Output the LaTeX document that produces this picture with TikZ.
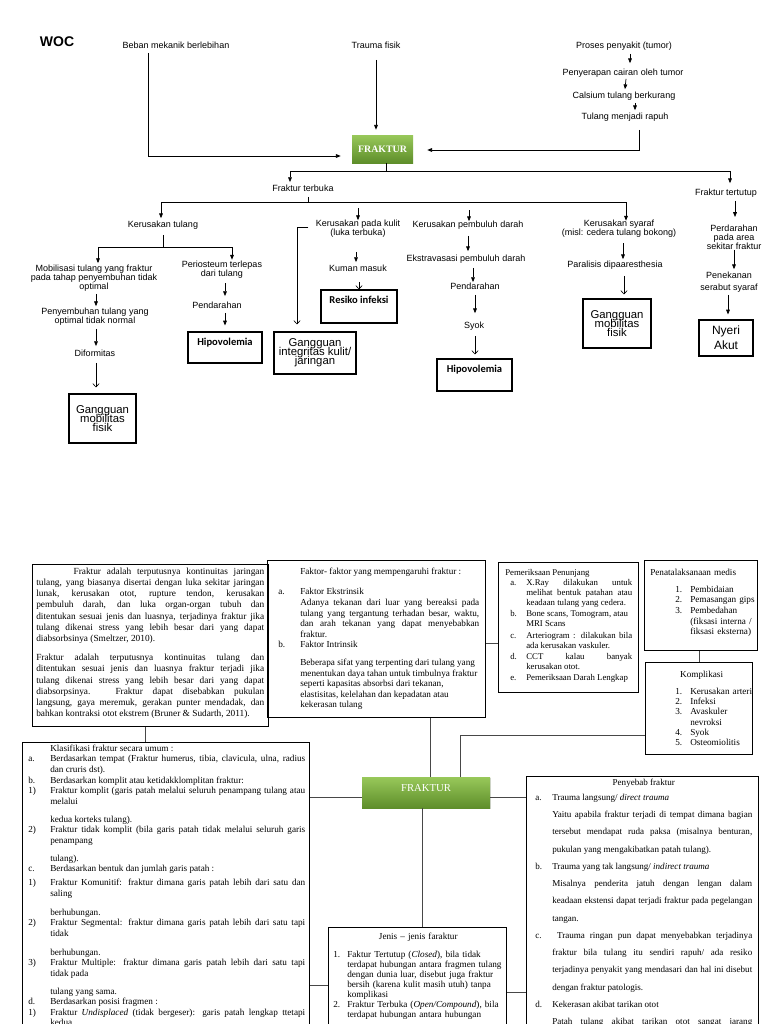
\documentclass[tikz,border=0pt]{standalone}
\usepackage{fontspec}
\setmainfont{Liberation Serif}
\setsansfont{Liberation Sans}
\newfontfamily\boxfont{Carlito}
\usetikzlibrary{arrows.meta}
\usetikzlibrary{calc}
\usetikzlibrary{shadows}
\definecolor{leafhi}{RGB}{152,200,90}
\definecolor{leaflo}{RGB}{94,142,42}
\newcommand{\entrylbl}[2][16.5pt]{\noindent\llap{\makebox[#1][l]{#2}}}
\newcommand{\boxtitle}[1]{\hbox to\hsize{\hss#1\hss}\par}

\begin{document}
\begin{tikzpicture}[x=0.75pt, y=-0.75pt,
	flow/.style={font=\sffamily\fontsize{6.75}{6.8}\selectfont, align=center, inner sep=1pt},
	dx/.style={draw, line width=0.8pt, align=center, inner sep=0pt, font=\sffamily\fontsize{8.5}{9}\selectfont},
	dxlbl/.style={anchor=north, inner sep=4.5pt, font=\boxfont\bfseries\fontsize{7.9}{8}\selectfont},
	frakbox/.style={top color=leafhi, bottom color=leaflo, text=white, inner sep=0pt},
	arr/.style={-{Triangle[length=3.6pt,width=2.8pt]}, line width=0.55pt},
	oarr/.style={-{Straight Barb[length=2.6pt,width=4.8pt]}, line width=0.45pt},
	panel/.style={draw, line width=0.8pt, anchor=north west, inner sep=0pt},
	body/.style={anchor=north west, inner sep=0pt, align=justify, font=\fontsize{6.9}{7.9}\selectfont},
	link/.style={draw=black!72, line width=0.7pt}]
	\useasboundingbox (0,0) rectangle (768,1024);
	\clip (0,0) rectangle (768,1024);
	\fill[white] (0,0) rectangle (768,1024);
	
	% causes of the fracture
	\node[font=\sffamily\bfseries\fontsize{10.5}{12}\selectfont, inner sep=0pt] (woc) at (57,42) {WOC};
	\node[flow] (beban) at (176,45) {Beban mekanik berlebihan};
	\node[flow] (trauma) at (376,45) {Trauma fisik};
	\node[flow] (proses) at (624,46) {Proses penyakit (tumor)};
	\node[flow] (serap) at (623,73) {Penyerapan cairan oleh tumor};
	\node[flow] (kalsium) at (624,96) {Calsium tulang berkurang};
	\node[flow] (rapuh) at (625,117) {Tulang menjadi rapuh};
	\node[frakbox, font=\bfseries\fontsize{7.4}{8}\selectfont, minimum width=45.75pt, minimum height=21pt] (fraktur) at (382.5,149) {FRAKTUR};
	
	\draw[arr] ($(beban.south)+(-28,3)$) |- ($(fraktur.west)+(-11,7)$);
	\draw[arr] ($(trauma.south)+(0,10)$) -- ($(fraktur.north)+(-6.5,-5)$);
	\draw[arr] ($(proses.south)+(6,2)$) -- ($(serap.north)+(7,-4)$);
	\draw[arr] ($(serap.south)+(3,0)$) -- ($(kalsium.north)+(1,-1)$);
	\draw[arr] ($(kalsium.south)+(11,1)$) -- ($(rapuh.north)+(10,-1)$);
	\draw[arr] ($(rapuh.south)+(14,7)$) |- ($(fraktur.east)+(14,1)$);
	
	% open and closed fracture
	\node[flow] (terbuka) at (303,188) {Fraktur terbuka};
	\node[flow] (tertutup) at (726,193) {Fraktur tertutup};
	\draw ($(fraktur.south)+(3.5,0)$) -- ++(0,8) coordinate (fbus);
	\draw[arr] (fbus) -| ($(terbuka.north)+(-13,-1)$);
	\draw[arr] (fbus) -| ($(tertutup.north)+(4,-4)$);
	
	\node[flow] (rtulang) at (163,225) {Kerusakan tulang};
	\node[flow] (rkulit) at (358,228.5) {Kerusakan pada kulit\\(luka terbuka)};
	\node[flow] (rdarah) at (468,225) {Kerusakan pembuluh darah};
	\node[flow] (rsyaraf) at (619,229) {Kerusakan syaraf\\(misl: cedera tulang bokong)};
	\draw ($(terbuka.south)+(5,4)$) -- ++(0,5.5) coordinate (tbus);
	\draw[arr] (tbus) -| ($(rtulang.north)+(-2,-1)$);
	\draw[arr] (tbus) -| ($(rsyaraf.north)+(7,2)$);
	\draw[arr] ($(rkulit.north)+(0,-10)$) -- ($(rkulit.north)+(0,2)$);
	\draw[arr] ($(rdarah.north)+(1,-9)$) -- ($(rdarah.north)+(1,2)$);
	
	% bone damage
	\node[flow] (mobil) at (94,278) {Mobilisasi tulang yang fraktur\\pada tahap penyembuhan tidak\\optimal};
	\node[flow] (perio) at (222,270) {Periosteum terlepas\\dari tulang};
	\draw ($(rtulang.south)+(0,4)$) -- ++(0,12.6) coordinate (kbus);
	\draw[arr] (kbus) -| ($(mobil.north)+(4,0)$);
	\draw[arr] (kbus) -| ($(perio.north)+(10,0)$);
	\node[flow] (sembuh) at (95,316.5) {Penyembuhan tulang yang\\optimal tidak normal};
	\node[flow] (difor) at (95,353) {Diformitas};
	\node[dx, minimum width=50.25pt, minimum height=36.75pt] (gmob1) at (102.5,418.5) {Gangguan\\[-2.25pt]mobilitas\\[-2.25pt]fisik};
	\draw[arr] ($(mobil.south)+(2,1)$) -- ($(sembuh.north)+(1,0)$);
	\draw[arr] ($(sembuh.south)+(1,2)$) -- ($(difor.north)+(1,-2)$);
	\draw[oarr] ($(difor.south)+(1,5)$) -- ($(gmob1.north)+(-6.5,-6)$);
	\node[flow] (pendar1) at (217,305) {Pendarahan};
	\node[dx, minimum width=55.5pt, minimum height=23.25pt, label={[dxlbl]north:Hipovolemia}] (hipo1) at (225,347.5) {};
	\draw[arr] ($(perio.south)+(3,3)$) -- ($(pendar1.north)+(8,-4)$);
	\draw[arr] ($(pendar1.south)+(8,3)$) -- ($(hipo1.north)+(0,-6)$);
	
	% skin damage
	\node[flow] (kuman) at (358,268) {Kuman masuk};
	\node[dx, minimum width=57pt, minimum height=24.75pt, label={[dxlbl]north:Resiko infeksi}] (infeksi) at (359,306.5) {};
	\node[dx, minimum width=61.5pt, minimum height=31.5pt] (gint) at (315,353) {Gangguan\\[-2.25pt]integritas kulit/\\[-2.25pt]jaringan};
	\draw[arr] ($(rkulit.south)+(-2,13)$) -- ($(kuman.north)+(-2,-1)$);
	\draw[oarr] ($(kuman.south)+(1,9)$) -- (infeksi.north);
	\draw[oarr] ($(rkulit.west)+(-6,-1.5)$) -| ($(gint.north)+(-18,-7)$);
	
	% vessel damage
	\node[flow] (ekstra) at (466,259) {Ekstravasasi pembuluh darah};
	\node[flow] (pendar2) at (475,286) {Pendarahan};
	\node[flow] (syok) at (474,326) {Syok};
	\node[dx, minimum width=56.25pt, minimum height=24pt, label={[dxlbl]north:Hipovolemia}] (hipo2) at (474.5,375) {};
	\draw[arr] ($(rdarah.south)+(0,5)$) -- ($(ekstra.north)+(2,-2)$);
	\draw[arr] ($(ekstra.south)+(7,3)$) -- ($(pendar2.north)+(-2,1)$);
	\draw[arr] ($(pendar2.south)+(0,4)$) -- ($(syok.north)+(1,-7)$);
	\draw[oarr] ($(syok.south)+(1,4)$) -- ($(hipo2.north)+(0.5,-4)$);
	
	% nerve damage
	\node[flow] (paral) at (615,265) {Paralisis dipaaresthesia};
	\node[dx, minimum width=51pt, minimum height=36.75pt] (gmob2) at (617,323.5) {Gangguan\\[-2.25pt]mobilitas\\[-2.25pt]fisik};
	\draw[arr] ($(rsyaraf.south)+(4,4)$) -- ($(paral.north)+(8,0)$);
	\draw[oarr] ($(paral.south)+(9,5)$) -- ($(gmob2.north)+(7,-4)$);
	
	% closed fracture
	\node[flow] (perdar) at (734,237) {Perdarahan\\pada area\\sekitar fraktur};
	\node[flow, font=\sffamily\fontsize{6.75}{9}\selectfont] (tekan) at (729,282) {Penekanan\\serabut syaraf};
	\node[dx, font=\sffamily\fontsize{9}{11.25}\selectfont, minimum width=40.5pt, minimum height=27pt] (nyeri) at (726,338) {Nyeri\\Akut};
	\draw[arr] ($(tertutup.south)+(9,2)$) -- ($(perdar.north)+(1,-6)$);
	\draw[arr] ($(perdar.south)+(0,-1)$) -- ($(tekan.north)+(5,-1)$);
	\draw[arr] ($(tekan.south)+(-1,1)$) -- ($(nyeri.north)+(2,-5)$);
	
	% concept map boxes
	\node[panel, minimum width=177pt, minimum height=121.5pt] (defbox) at (32,564) {};
	\node[panel, minimum width=163.5pt, minimum height=117.75pt] (faktor) at (267,560) {};
	\node[panel, minimum width=105pt, minimum height=97.5pt] (periksa) at (498,562) {};
	\node[panel, minimum width=84.75pt, minimum height=67.5pt] (tata) at (644,560) {};
	\node[panel, minimum width=80.25pt, minimum height=69pt] (kompli) at (645,662) {};
	\node[panel, minimum width=215.25pt, minimum height=268.5pt] (klasbox) at (22,742) {};
	\node[panel, minimum width=174pt, minimum height=243pt] (sebab) at (526,776) {};
	\node[panel, minimum width=133.5pt, minimum height=129.75pt] (jenis) at (328,927) {};
	\node[frakbox, font=\fontsize{8}{9}\selectfont, text depth=6.5pt, minimum width=96pt, minimum height=23.25pt,
		drop shadow={shadow xshift=1pt, shadow yshift=-1pt, opacity=0.3}] (fraktur2) at (426,792.5) {FRAKTUR};
	
	% links between the boxes
	\coordinate (d1) at ($(defbox.south)+(-5,0)$);
	\draw[link] (d1) -- (d1 |- klasbox.north);
	\coordinate (f1) at ($(fraktur2.north)+(4,0)$);
	\draw[link] (f1) -- (f1 |- faktor.south);
	\coordinate (f2) at ($(faktor.east)+(0,4.5)$);
	\draw[link] (f2) -- (f2 -| periksa.west);
	\draw[link] (kompli.north) -- (kompli.north |- tata.south);
	\coordinate (k1) at ($(kompli.west)+(0,27)$);
	\draw[link] (k1) -| ($(fraktur2.north)+(34,0)$);
	\coordinate (f3) at ($(fraktur2.west)+(0,4.5)$);
	\draw[link] (f3) -- (f3 -| klasbox.east);
	\coordinate (f4) at ($(fraktur2.east)+(0,4.5)$);
	\draw[link] (f4) -- (f4 -| sebab.west);
	\coordinate (f5) at ($(fraktur2.south)+(-4,0)$);
	\draw[link] (f5) -- (f5 |- jenis.north);
	\coordinate (j1) at ($(jenis.north west)+(0,58.5)$);
	\draw[link] (j1) -- (j1 -| klasbox.east);
	\coordinate (j2) at ($(jenis.north east)+(0,65)$);
	\draw[link] (j2) -- (j2 -| sebab.west);
	
	% box texts
	\node[body, text width=171pt, font=\fontsize{7}{8.4}\selectfont] (deftext) at (36,567.5) {\parindent=0pt
		\hspace*{28pt}Fraktur adalah terputusnya kontinuitas jaringan\linebreak
		tulang, yang biasanya disertai dengan luka sekitar jaringan\linebreak
		lunak, kerusakan otot, rupture tendon, kerusakan\linebreak
		pembuluh darah, dan luka organ-organ tubuh dan\linebreak
		ditentukan sesuai jenis dan luasnya, terjadinya fraktur jika\linebreak
		tulang dikenai stress yang lebih besar dari yang dapat\linebreak
		diabsorbsinya (Smeltzer, 2010).\par\vspace{6pt}
		Fraktur adalah terputusnya kontinuitas tulang dan\linebreak
		ditentukan sesuai jenis dan luasnya fraktur terjadi jika\linebreak
		tulang dikenai stress yang lebih besar dari yang dapat\linebreak
		diabsorpsinya. Fraktur dapat disebabkan pukulan\linebreak
		langsung, gaya meremuk, gerakan punter mendadak, dan\linebreak
		bahkan kontraksi otot ekstrem (Bruner \& Sudarth, 2011).\par};
	
	\node[body, text width=150.75pt] (faktortext) at (278,567.7) {\parindent=0pt\leftskip=16.5pt
		Faktor- faktor yang mempengaruhi fraktur :\par\vspace{7.5pt}
		\entrylbl{a.}Faktor Ekstrinsik\par
		Adanya tekanan dari luar yang bereaksi pada\linebreak
		tulang yang tergantung terhadan besar, waktu,\linebreak
		dan arah tekanan yang dapat menyebabkan\linebreak
		fraktur.\par
		\entrylbl{b.}Faktor Intrinsik\par\vspace{5.6pt}
		Beberapa sifat yang terpenting dari tulang yang\\
		menentukan daya tahan untuk timbulnya fraktur\\
		seperti kapasitas absorbsi dari tekanan,\\
		elastisitas, kelelahan dan kepadatan atau\\
		kekerasan tulang\par};
	
	\node[body, text width=95.25pt, font=\fontsize{6.6}{7.5}\selectfont] (periksatext) at (505,568.7) {\parindent=0pt
		Pemeriksaan Penunjang\par\leftskip=15.75pt
		\entrylbl[12pt]{a.}X.Ray dilakukan untuk\linebreak
		melihat bentuk patahan atau\linebreak
		keadaan tulang yang cedera.\par\vspace{1.1pt}
		\entrylbl[12pt]{b.}Bone scans, Tomogram, atau\\
		MRI Scans\par\vspace{1.1pt}
		\entrylbl[12pt]{c.}Arteriogram : dilakukan bila\linebreak
		ada kerusakan vaskuler.\par\vspace{1.1pt}
		\entrylbl[12pt]{d.}CCT kalau banyak\linebreak
		kerusakan otot.\par\vspace{1.1pt}
		\entrylbl[12pt]{e.}Pemeriksaan Darah Lengkap\par};
	
	\node[body, align=left, text width=78.75pt] (tatatext) at (650,568.7) {\parindent=0pt
		Penatalaksanaan medis\par\vspace{4.9pt}\leftskip=30pt
		\entrylbl[11.25pt]{1.}Pembidaian\par
		\entrylbl[11.25pt]{2.}Pemasangan gips\par
		\entrylbl[11.25pt]{3.}Pembedahan\\(fiksasi interna /\\fiksasi eksterna)\par};
	
	\node[body, align=left, text width=80pt, font=\fontsize{6.9}{7.7}\selectfont] (komplitext) at (648,670.7) {\parindent=0pt\hyphenpenalty=10000
		\boxtitle{Komplikasi}\vspace{5pt}\leftskip=31.5pt
		\entrylbl[11.25pt]{1.}Kerusakan arteri\par
		\entrylbl[11.25pt]{2.}Infeksi\par
		\entrylbl[11.25pt]{3.}Avaskuler\\nevroksi\par
		\entrylbl[11.25pt]{4.}Syok\par
		\entrylbl[11.25pt]{5.}Osteomiolitis\par};
	
	\node[body, text width=207.75pt] (klastext) at (28,744.7) {\parindent=0pt\leftskip=16.5pt
		Klasifikasi fraktur secara umum :\par
		\entrylbl{a.}Berdasarkan tempat (Fraktur humerus, tibia, clavicula, ulna, radius\linebreak
		dan cruris dst).\par
		\entrylbl{b.}Berdasarkan komplit atau ketidakklomplitan fraktur:\par
		\entrylbl{1)}Fraktur komplit (garis patah melalui seluruh penampang tulang atau\linebreak
		melalui\par\vspace{5.6pt}
		kedua korteks tulang).\par
		\entrylbl{2)}Fraktur tidak komplit (bila garis patah tidak melalui seluruh garis\linebreak
		penampang\par\vspace{5.6pt}
		tulang).\par
		\entrylbl{c.}Berdasarkan bentuk dan jumlah garis patah :\par\vspace{2.6pt}
		\entrylbl{1)}Fraktur Komunitif: fraktur dimana garis patah lebih dari satu dan\linebreak
		saling\par\vspace{6.5pt}
		berhubungan.\par
		\entrylbl{2)}Fraktur Segmental: fraktur dimana garis patah lebih dari satu tapi\linebreak
		tidak\par\vspace{6pt}
		berhubungan.\par
		\entrylbl{3)}Fraktur Multiple: fraktur dimana garis patah lebih dari satu tapi\linebreak
		tidak pada\par\vspace{5.6pt}
		tulang yang sama.\par
		\entrylbl{d.}Berdasarkan posisi fragmen :\par
		\entrylbl{1)}Fraktur \textit{Undisplaced} (tidak bergeser): garis patah lengkap ttetapi\linebreak
		kedua\par};
	
	\node[body, text width=162.75pt, font=\fontsize{6.8}{12.94}\selectfont] (sebabtext) at (535,778.7) {\parindent=0pt
		\boxtitle{Penyebab fraktur}\vspace{-1.7pt}\leftskip=12.75pt
		\entrylbl[12.75pt]{a.}Trauma langsung/ \textit{direct trauma}\par
		Yaitu apabila fraktur terjadi di tempat dimana bagian\linebreak
		tersebut mendapat ruda paksa (misalnya benturan,\linebreak
		pukulan yang mengakibatkan patah tulang).\par
		\entrylbl[12.75pt]{b.}Trauma yang tak langsung/ \textit{indirect trauma}\par
		Misalnya penderita jatuh dengan lengan dalam\linebreak
		keadaan ekstensi dapat terjadi fraktur pada pegelangan\linebreak
		tangan.\par
		\entrylbl[12.75pt]{c.}\ Trauma ringan pun dapat menyebabkan terjadinya\linebreak
		fraktur bila tulang itu sendiri rapuh/ ada resiko\linebreak
		terjadinya penyakit yang mendasari dan hal ini disebut\linebreak
		dengan fraktur patologis.\par
		\entrylbl[12.75pt]{d.}Kekerasan akibat tarikan otot\par
		{\parfillskip=0pt Patah tulang akibat tarikan otot sangat jarang\par}};
	
	\node[body, align=left, text width=127.5pt, font=\fontsize{6.9}{7.5}\selectfont] (jenistext) at (333,932.7) {\parindent=0pt
		\boxtitle{Jenis -- jenis faraktur}\vspace{6pt}\leftskip=10.5pt
		\entrylbl[10.5pt]{1.}Faktur Tertutup (\textit{Closed}), bila tidak\\
		terdapat hubungan antara fragmen tulang\\
		dengan dunia luar, disebut juga fraktur\\
		bersih (karena kulit masih utuh) tanpa\\
		komplikasi\par
		\entrylbl[10.5pt]{2.}Fraktur Terbuka (\textit{Open/Compound}), bila\\
		terdapat hubungan antara hubungan\par};
\end{tikzpicture}
\end{document}
